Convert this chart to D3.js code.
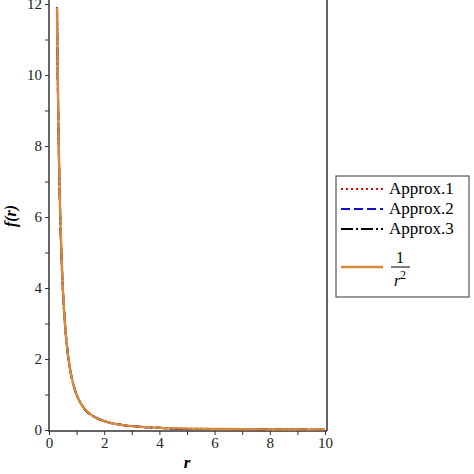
<!DOCTYPE html><html><head><meta charset="utf-8">
<script src="https://d3js.org/d3.v7.min.js"></script>
<style>body{margin:0;background:#fff}text{font-family:"Liberation Serif",serif}</style></head><body>
<svg id="c" width="474" height="474"></svg>
<script>
const rVals = [0.29,0.3,0.35,0.4,0.45,0.5,0.6,0.7,0.8,0.9,1.0,1.2,1.4,1.6,1.8,2.0,2.5,3.0,3.5,4.0,5.0,6.0,7.0,8.0,9.0,10.0];
const exact = [11.9,11.1,8.16,6.25,4.94,4.0,2.78,2.04,1.56,1.23,1.0,0.69,0.51,0.39,0.31,0.25,0.16,0.11,0.08,0.06,0.04,0.03,0.02,0.016,0.012,0.01];
const approx1 = [11.9,11.1,8.16,6.25,4.94,4.0,2.78,2.04,1.56,1.23,1.0,0.69,0.51,0.39,0.31,0.25,0.16,0.11,0.08,0.06,0.04,0.03,0.02,0.016,0.012,0.01];
const approx2 = [11.9,11.1,8.16,6.25,4.94,4.0,2.78,2.04,1.56,1.23,1.0,0.69,0.50,0.39,0.31,0.25,0.16,0.11,0.08,0.06,0.03,0.03,0.02,0.015,0.011,0.01];
const approx3 = approx2.slice();
const xTicks = [0,2,4,6,8,10];
const yTicks = [0,2,4,6,8,10,12];
const legendLabels = ["Approx.1","Approx.2","Approx.3"];

const svg = d3.select("#c");
const x = d3.scaleLinear().domain([0,10]).range([49,325]);
const y = d3.scaleLinear().domain([0,12]).range([430,4]);
const g = svg.append("g");
g.append("line").attr("x1",49).attr("x2",49).attr("y1",0).attr("y2",431).attr("stroke","#333").attr("stroke-width",1.5);
g.append("line").attr("x1",327).attr("x2",327).attr("y1",0).attr("y2",431).attr("stroke","#333").attr("stroke-width",1.5);
g.append("line").attr("x1",48).attr("x2",327).attr("y1",431).attr("y2",431).attr("stroke","#333").attr("stroke-width",1.5);
const xa = svg.append("g").attr("transform","translate(0,431)").call(d3.axisBottom(x).tickValues(d3.range(0,10.5,1)).tickSize(4).tickFormat(d=>xTicks.includes(d)?d:""));
xa.attr("font-family","Liberation Serif").attr("font-size",15);
xa.select(".domain").remove();
xa.selectAll("line").attr("stroke","#333");
xa.selectAll("text").attr("dy","0.65em").attr("fill","#222");
const ya = svg.append("g").attr("transform","translate(49,0)").call(d3.axisLeft(y).tickValues(d3.range(0,12.5,1)).tickSize(4).tickFormat(d=>yTicks.includes(d)?d:""));
ya.attr("font-family","Liberation Serif").attr("font-size",15);
ya.select(".domain").remove();
ya.selectAll("line").attr("stroke","#333");
ya.selectAll("text").attr("fill","#222");
svg.append("text").attr("x",187).attr("y",468).attr("text-anchor","middle").attr("font-size",17).attr("font-style","italic").attr("font-weight","bold").text("r");
svg.append("text").attr("transform","translate(16,216) rotate(-90)").attr("text-anchor","middle").attr("font-size",16).attr("font-style","italic").attr("font-weight","bold").text("f(r)");

svg.append("clipPath").attr("id","cp").append("rect").attr("x",49).attr("y",0).attr("width",278).attr("height",431);
const line = d3.line().x((d,i)=>x(rVals[i])).y(d=>y(d)).curve(d3.curveMonotoneX);
const pg = svg.append("g").attr("clip-path","url(#cp)");
pg.append("path").attr("d",line(approx1)).attr("fill","none").attr("stroke","#e00").attr("stroke-width",2).attr("stroke-dasharray","2,3");
pg.append("path").attr("d",line(approx2)).attr("fill","none").attr("stroke","#1010d0").attr("stroke-width",2).attr("stroke-dasharray","9,4");
pg.append("path").attr("d",line(approx3)).attr("fill","none").attr("stroke","#000").attr("stroke-width",2).attr("stroke-dasharray","12,3,2,3");
pg.append("path").attr("d",line(exact)).attr("fill","none").attr("stroke","#d88a3a").attr("stroke-width",2.4);

const L = svg.append("g");
L.append("rect").attr("x",336).attr("y",176).attr("width",133).attr("height",121).attr("fill","#fff").attr("stroke","#555").attr("stroke-width",1.2);
const styles=[["#e00","2,3"],["#1010d0","9,4"],["#000","12,3,2,3"]];
legendLabels.forEach((t,i)=>{
  const yy=189+i*20;
  L.append("line").attr("x1",341).attr("x2",383).attr("y1",yy).attr("y2",yy).attr("stroke",styles[i][0]).attr("stroke-width",2).attr("stroke-dasharray",styles[i][1]);
  L.append("text").attr("x",389).attr("y",yy+5).attr("font-size",17).text(t);
});
L.append("line").attr("x1",341).attr("x2",383).attr("y1",267).attr("y2",267).attr("stroke","#d88a3a").attr("stroke-width",2.4);
L.append("text").attr("x",400).attr("y",263).attr("text-anchor","middle").attr("font-size",16).text("1");
L.append("line").attr("x1",391).attr("x2",410).attr("y1",267).attr("y2",267).attr("stroke","#000").attr("stroke-width",1);
const t2=L.append("text").attr("x",400).attr("y",286).attr("text-anchor","middle").attr("font-size",16);
t2.append("tspan").attr("font-style","italic").text("r");
t2.append("tspan").attr("dy",-7).attr("font-size",12).text("2");
</script></body></html>
